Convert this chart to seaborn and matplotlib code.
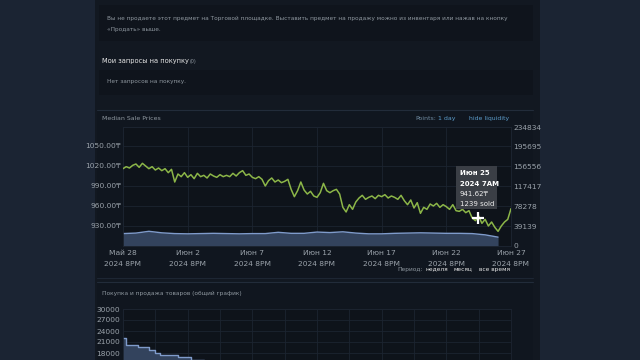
import numpy as np
import pandas as pd
import matplotlib
matplotlib.use("Agg")
import matplotlib.pyplot as plt
from matplotlib.patches import Rectangle
import seaborn as sns

# ---------------- data ----------------
price_values = [
    1016, 1019, 1017, 1021,
    1023, 1018, 1024, 1020,
    1016, 1019, 1014, 1017,
    1013, 1016, 1010, 1015,
    996, 1008, 1004, 1010,
    1003, 1007, 1001, 1009,
    1004, 1006, 1002, 1008,
    1005, 1003, 1007, 1004,
    1006, 1004, 1009, 1005,
    1010, 1013, 1006, 1008,
    1003, 1001, 1004, 1000,
    990, 998, 1002, 996,
    999, 995, 997, 1000,
    985, 974, 983, 996,
    984, 978, 982, 975,
    973, 980, 994, 983,
    980, 983, 985, 978,
    958, 951, 962, 955,
    966, 972, 976, 970,
    973, 975, 971, 976,
    974, 977, 972, 975,
    973, 970, 976, 968,
    962, 969, 957, 965,
    949, 958, 955, 963,
    960, 964, 958, 962,
    959, 955, 962, 953,
    952, 955, 950, 953,
    942, 938, 945, 934,
    940, 930, 936, 928,
    922, 930, 936, 940,
    956,
]
volume_values = [
    24500, 25500, 29000, 26000, 24500, 24000, 24500, 25000, 24500, 24000,
    24500, 24500, 27000, 25000, 25000, 27500, 26500, 28000, 25500, 24000,
    24000, 25000, 25500, 26000, 25500, 25000, 25000, 24500, 22000, 17500,
]
price_ticks = [930, 960, 990, 1020, 1050]
price_tick_labels = ["930.00₸", "960.00₸", "990.00₸", "1020.00₸", "1050.00₸"]
volume_ticks = [0, 39139, 78278, 117417, 156556, 195695, 234834]
date_ticks = ["2024-05-28 20:00", "2024-06-02 20:00", "2024-06-07 20:00",
              "2024-06-12 20:00", "2024-06-17 20:00", "2024-06-22 20:00",
              "2024-06-27 20:00"]
date_tick_labels = ["Май 28\n2024 8PM", "Июн 2\n2024 8PM", "Июн 7\n2024 8PM",
                    "Июн 12\n2024 8PM", "Июн 17\n2024 8PM", "Июн 22\n2024 8PM",
                    "Июн 27\n2024 8PM"]
tooltip_date = "2024-06-25 07:00"
tooltip_price = 941.62
tooltip_lines = ["Июн 25", "2024 7AM", "941.62₸", "1239 sold"]

orders_x = [0, 0.1, 0.45, 0.8, 1.0, 1.15, 1.7, 2.1, 2.5, 3.0, 4.0, 5.0]
orders_qty = [22000, 20200, 19600, 18900, 18100, 17500, 17000, 16200, 15000, 13000, 10000, 8000]
orders_ticks = [18000, 21000, 24000, 27000, 30000]
orders_grid = [0, 3000, 6000, 9000, 12000, 15000]

# ---------------- style ----------------
sns.set_theme(style="dark")
plt.rcParams["font.family"] = ["DejaVu Sans"]

W, H = 640, 360
OUTER = "#1b2433"
PANEL = "#121821"
BOX = "#0f141c"
PLOTBG = "#0e131a"
GRID = "#1c2430"
TXT = "#8f98a0"
TICK = "#9aa2aa"
BLUE = "#5b9bc9"
GREEN = "#8cb648"
VOLFILL = "#33435d"
VOLLINE = "#7f9bcb"

fig = plt.figure(figsize=(6.4, 3.6), dpi=100, facecolor=OUTER)


def fx(x):
    return x / W


def fy(y):
    return 1 - y / H


def rect(x0, y0, x1, y1, color, z=0):
    fig.add_artist(Rectangle((fx(x0), fy(y1)), (x1 - x0) / W, (y1 - y0) / H,
                             transform=fig.transFigure, facecolor=color,
                             edgecolor="none", zorder=z))


def hline(x0, x1, y, color):
    fig.add_artist(plt.Line2D([fx(x0), fx(x1)], [fy(y), fy(y)],
                              transform=fig.transFigure, color=color, lw=0.8, zorder=1))


def text(x, y, s, size=5.5, color=TXT, **kw):
    kw.setdefault("va", "center")
    return fig.text(fx(x), fy(y), s, fontsize=size, color=color, **kw)


# page panels
rect(95, 0, 540, 360, PANEL)
rect(99, 5, 533, 41, BOX, 1)
rect(99, 70, 533, 95, BOX, 1)
rect(97, 110, 533, 278, "#10161f", 1)
hline(97, 533, 110, "#222c3a")
hline(97, 533, 278, "#1d2633")
rect(97, 282, 533, 360, "#10161f", 1)
hline(97, 533, 282, "#222c3a")

text(107, 18, "Вы не продаете этот предмет на Торговой площадке. Выставить предмет на продажу можно из инвентаря или нажав на кнопку", 4.15)
text(107, 29, "«Продать» выше.", 4.15)
text(102, 61, "Мои запросы на покупку", 4.8, color="#e6e6e6")
text(190, 61.5, "(0)", 3.4)
text(107, 82, "Нет запросов на покупку.", 4.15)

text(102, 119, "Median Sale Prices", 4.5)
text(415, 119, "Points:", 4.5, color="#6f8aa0")
text(438, 119, "1 day", 4.5, color=BLUE)
text(469, 119, "hide liquidity", 4.4, color=BLUE)

text(397, 269, "Период:", 4.2)
text(425, 269, "неделя", 4.2, color="#e6e6e6")
text(453, 269, "месяц", 4.2, color="#e6e6e6")
text(479, 269, "все время", 4.2, color="#e6e6e6")

text(102, 293, "Покупка и продажа товаров (общий график)", 4.2)

# ---------------- main chart ----------------
px0, px1, py0, py1 = 123, 511, 127, 246
ax = fig.add_axes([fx(px0), fy(py1), (px1 - px0) / W, (py1 - py0) / H], zorder=3)
ax.set_facecolor(PLOTBG)

t_price = pd.date_range("2024-05-28 20:00", periods=len(price_values), freq="6h")
t_vol = pd.date_range("2024-05-28 20:00", periods=len(volume_values), freq="1D")
dfp = pd.DataFrame({"t": t_price, "price": price_values})
dfv = pd.DataFrame({"t": t_vol, "vol": volume_values})

# volume (right axis)
ax.fill_between(dfv["t"], 0, dfv["vol"], color=VOLFILL, lw=0, zorder=2)
sns.lineplot(data=dfv, x="t", y="vol", ax=ax, color=VOLLINE, lw=1.0, zorder=3)
ax.set_ylim(0, 234834)
ax.set_yticks(volume_ticks)
ax.set_yticklabels([str(v) for v in volume_ticks])

ax2 = ax.twinx()
sns.lineplot(data=dfp, x="t", y="price", ax=ax2, color=GREEN, lw=1.1, zorder=4)
ax2.plot([pd.Timestamp(tooltip_date)], [tooltip_price], marker="+", color="white",
         ms=9, mew=1.6, zorder=6)
ax2.set_ylim(900, 1078.5)
ax2.set_yticks(price_ticks)
ax2.set_yticklabels(price_tick_labels)

ax.yaxis.set_ticks_position("right")
ax.yaxis.set_label_position("right")
ax2.yaxis.set_ticks_position("left")
ax2.yaxis.set_label_position("left")

xmin, xmax = pd.Timestamp(date_ticks[0]), pd.Timestamp(date_ticks[-1])
for a in (ax, ax2):
    a.set_xlim(xmin, xmax)
    a.set_xlabel("")
    a.set_ylabel("")
    for s in a.spines.values():
        s.set_color(GRID)
        s.set_linewidth(0.6)
    a.tick_params(axis="both", length=0, labelsize=5.4, labelcolor=TICK, pad=1.5)

ax.set_xticks([pd.Timestamp(d) for d in date_ticks])
ax.set_xticklabels(date_tick_labels, linespacing=1.9)
ax.tick_params(axis="x", pad=3)
ax.grid(False)
ax2.grid(False)
for d in date_ticks[1:-1]:
    ax.axvline(pd.Timestamp(d), color=GRID, lw=0.6, zorder=1)
for p in price_ticks:
    ax2.axhline(p, color=GRID, lw=0.6, zorder=1)
ax2.patch.set_visible(False)

# tooltip
rect(456, 166, 497, 209, "#3a3e45", 9)
for i, line in enumerate(tooltip_lines):
    t = text(460, 173 + i * 10.5, line, 5.0,
             color="white" if i < 2 else "#eeeeee",
             fontweight="bold" if i < 2 else "normal")
    t.set_zorder(10)

# ---------------- orders chart ----------------
oy_top, oy_bot = 309, 419
ax3 = fig.add_axes([fx(px0), fy(oy_bot), (px1 - px0) / W, (oy_bot - oy_top) / H], zorder=3)
ax3.set_facecolor(PLOTBG)
dfo = pd.DataFrame({"x": orders_x, "q": orders_qty})
ax3.fill_between(dfo["x"], 0, dfo["q"], step="post", color=VOLFILL, lw=0)
ax3.step(dfo["x"], dfo["q"], where="post", color=VOLLINE, lw=1.0)
ax3.set_xlim(0, 12)
ax3.set_ylim(0, 30000)
ax3.set_yticks(orders_ticks)
ax3.set_yticklabels([str(v) for v in orders_ticks])
for g in orders_grid:
    ax3.axhline(g, color=GRID, lw=0.6, zorder=0)
ax3.set_xticks(range(0, 13))
ax3.set_xticklabels([])
ax3.grid(True, color=GRID, lw=0.6)
ax3.set_axisbelow(True)
for s in ax3.spines.values():
    s.set_color(GRID)
    s.set_linewidth(0.6)
ax3.tick_params(axis="both", length=0, labelsize=5.4, labelcolor=TICK, pad=2)

fig.savefig("out.png", dpi=100, facecolor=OUTER)
